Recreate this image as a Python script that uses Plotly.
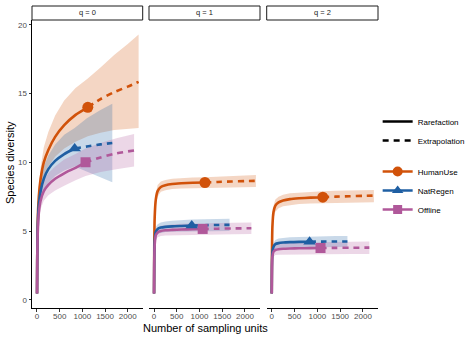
import plotly.graph_objects as go

# ---------------- data ----------------
GROUPS = ["HumanUse", "NatRegen", "Offline"]
Q_LABELS = ["q = 0", "q = 1", "q = 2"]
X_TICKS = [0, 500, 1000, 1500, 2000]
Y_TICKS = [0, 5, 10, 15, 20]

# sampling units grid per assemblage; observed sample size index marks end of rarefaction
HU_X = [1, 5, 15, 40, 80, 150, 250, 400, 600, 850, 1120, 1400, 1700, 2000, 2240]
HU_NOBS_IDX = 10
NR_X = [1, 5, 15, 40, 80, 150, 250, 400, 600, 830, 1100, 1400, 1660]
NR_NOBS_IDX = 9
OF_X = [1, 5, 15, 40, 80, 150, 250, 400, 600, 850, 1070, 1400, 1750, 2140]
OF_NOBS_IDX = 10

# HumanUse
HU_Q0_Y = [0.45, 3.0, 5.6, 7.5, 8.8, 10.0, 10.9, 11.85, 12.7, 13.45, 14.0, 14.6, 15.1, 15.5, 15.85]
HU_Q0_LO = [0.4, 2.8, 5.2, 6.9, 8.0, 9.0, 9.7, 10.4, 11.0, 11.5, 11.9, 12.15, 12.35, 12.45, 12.5]
HU_Q0_HI = [0.5, 3.2, 6.0, 8.1, 9.6, 11.1, 12.2, 13.4, 14.5, 15.4, 16.1, 16.9, 17.8, 18.6, 19.3]
HU_Q1_Y = [0.45, 3.5, 6.0, 7.3, 7.9, 8.2, 8.33, 8.42, 8.47, 8.51, 8.53, 8.57, 8.6, 8.63, 8.65]
HU_Q1_LO = [0.4, 3.2, 5.6, 6.9, 7.5, 7.85, 7.97, 8.05, 8.1, 8.13, 8.15, 8.17, 8.18, 8.19, 8.2]
HU_Q1_HI = [0.5, 3.8, 6.4, 7.75, 8.35, 8.6, 8.72, 8.8, 8.85, 8.89, 8.92, 8.96, 9.0, 9.04, 9.08]
HU_Q2_Y = [0.45, 3.2, 5.3, 6.4, 6.85, 7.08, 7.22, 7.32, 7.38, 7.43, 7.46, 7.5, 7.53, 7.56, 7.58]
HU_Q2_LO = [0.4, 2.9, 4.9, 5.95, 6.4, 6.65, 6.8, 6.9, 6.96, 7.01, 7.04, 7.06, 7.08, 7.09, 7.1]
HU_Q2_HI = [0.5, 3.5, 5.7, 6.85, 7.3, 7.5, 7.64, 7.74, 7.8, 7.86, 7.9, 7.93, 7.95, 7.97, 7.98]

# NatRegen
NR_Q0_Y = [0.45, 2.9, 5.2, 6.9, 7.9, 8.8, 9.5, 10.1, 10.6, 11.0, 11.15, 11.3, 11.4]
NR_Q0_LO = [0.4, 2.7, 4.9, 6.4, 7.2, 8.0, 8.5, 9.0, 9.4, 9.7, 9.3, 8.9, 8.55]
NR_Q0_HI = [0.5, 3.1, 5.5, 7.4, 8.6, 9.7, 10.5, 11.3, 12.0, 12.5, 13.2, 13.8, 14.25]
NR_Q1_Y = [0.45, 2.8, 4.3, 4.95, 5.15, 5.25, 5.3, 5.34, 5.37, 5.4, 5.42, 5.44, 5.45]
NR_Q1_LO = [0.4, 2.6, 4.0, 4.6, 4.8, 4.88, 4.92, 4.95, 4.97, 4.98, 4.99, 5.0, 5.0]
NR_Q1_HI = [0.5, 3.0, 4.6, 5.3, 5.5, 5.62, 5.7, 5.75, 5.8, 5.83, 5.86, 5.88, 5.9]
NR_Q2_Y = [0.45, 2.4, 3.45, 3.85, 4.05, 4.12, 4.16, 4.19, 4.21, 4.22, 4.23, 4.235, 4.24]
NR_Q2_LO = [0.4, 2.2, 3.2, 3.55, 3.7, 3.76, 3.79, 3.81, 3.82, 3.83, 3.84, 3.845, 3.85]
NR_Q2_HI = [0.5, 2.6, 3.7, 4.15, 4.35, 4.45, 4.5, 4.54, 4.57, 4.6, 4.62, 4.63, 4.64]

# Offline
OF_Q0_Y = [0.45, 2.6, 4.7, 6.3, 7.2, 7.9, 8.35, 8.8, 9.2, 9.6, 10.0, 10.35, 10.65, 10.86]
OF_Q0_LO = [0.4, 2.4, 4.3, 5.8, 6.6, 7.2, 7.6, 7.95, 8.3, 8.7, 9.0, 9.3, 9.5, 9.7]
OF_Q0_HI = [0.5, 2.8, 5.1, 6.9, 7.9, 8.7, 9.2, 9.7, 10.2, 10.6, 11.0, 11.4, 11.75, 12.05]
OF_Q1_Y = [0.45, 2.6, 4.0, 4.7, 4.9, 5.0, 5.05, 5.08, 5.11, 5.13, 5.15, 5.17, 5.19, 5.2]
OF_Q1_LO = [0.4, 2.4, 3.7, 4.35, 4.55, 4.63, 4.67, 4.69, 4.71, 4.73, 4.74, 4.75, 4.77, 4.78]
OF_Q1_HI = [0.5, 2.8, 4.3, 5.05, 5.25, 5.38, 5.44, 5.48, 5.52, 5.55, 5.57, 5.59, 5.61, 5.62]
OF_Q2_Y = [0.45, 2.2, 3.15, 3.5, 3.62, 3.68, 3.71, 3.73, 3.745, 3.755, 3.76, 3.775, 3.785, 3.79]
OF_Q2_LO = [0.4, 2.0, 2.85, 3.15, 3.25, 3.28, 3.29, 3.3, 3.31, 3.32, 3.32, 3.33, 3.33, 3.33]
OF_Q2_HI = [0.5, 2.4, 3.45, 3.85, 4.0, 4.08, 4.12, 4.15, 4.17, 4.19, 4.2, 4.21, 4.22, 4.23]

# ---------------- styling ----------------
LINE_COL = {"HumanUse": "#D1520A", "NatRegen": "#1F5FA3", "Offline": "#B0589A"}
FILL_COL = {"HumanUse": "rgba(209,82,10,0.24)", "NatRegen": "rgba(31,95,163,0.24)",
            "Offline": "rgba(176,88,154,0.24)"}
SYMBOL = {"HumanUse": "circle", "NatRegen": "triangle-up", "Offline": "square"}
MSIZE = {"HumanUse": 11, "NatRegen": 11, "Offline": 10}
FONT = "Liberation Sans, Arial, sans-serif"

SERIES = {
    "HumanUse": (HU_X, HU_NOBS_IDX, [(HU_Q0_Y, HU_Q0_LO, HU_Q0_HI), (HU_Q1_Y, HU_Q1_LO, HU_Q1_HI), (HU_Q2_Y, HU_Q2_LO, HU_Q2_HI)]),
    "NatRegen": (NR_X, NR_NOBS_IDX, [(NR_Q0_Y, NR_Q0_LO, NR_Q0_HI), (NR_Q1_Y, NR_Q1_LO, NR_Q1_HI), (NR_Q2_Y, NR_Q2_LO, NR_Q2_HI)]),
    "Offline": (OF_X, OF_NOBS_IDX, [(OF_Q0_Y, OF_Q0_LO, OF_Q0_HI), (OF_Q1_Y, OF_Q1_LO, OF_Q1_HI), (OF_Q2_Y, OF_Q2_LO, OF_Q2_HI)]),
}

fig = go.Figure()
axes = [("x", "y"), ("x2", "y2"), ("x3", "y3")]

for qi, (xa, ya) in enumerate(axes):
    # ribbons
    for g in GROUPS:
        xs, ni, curves = SERIES[g]
        y, lo, hi = curves[qi]
        fig.add_trace(go.Scatter(x=xs + xs[::-1], y=hi + lo[::-1], fill="toself",
                                 fillcolor=FILL_COL[g], line=dict(width=0), mode="lines",
                                 hoverinfo="skip", showlegend=False, xaxis=xa, yaxis=ya))
    # lines
    for g in GROUPS:
        xs, ni, curves = SERIES[g]
        y, lo, hi = curves[qi]
        fig.add_trace(go.Scatter(x=xs[:ni + 1], y=y[:ni + 1], mode="lines",
                                 line=dict(color=LINE_COL[g], width=2.6, shape="spline", smoothing=0.6),
                                 showlegend=False, xaxis=xa, yaxis=ya))
        fig.add_trace(go.Scatter(x=xs[ni:], y=y[ni:], mode="lines",
                                 line=dict(color=LINE_COL[g], width=2.6, dash="6px,5px", shape="spline", smoothing=0.6),
                                 showlegend=False, xaxis=xa, yaxis=ya))
    # observed points
    for g in GROUPS:
        xs, ni, curves = SERIES[g]
        y, lo, hi = curves[qi]
        fig.add_trace(go.Scatter(x=[xs[ni]], y=[y[ni]], mode="markers",
                                 marker=dict(color=LINE_COL[g], symbol=SYMBOL[g], size=MSIZE[g], line=dict(width=0)),
                                 showlegend=False, xaxis=xa, yaxis=ya))

# legend entries
fig.add_trace(go.Scatter(x=[None], y=[None], mode="lines", name="Rarefaction",
                         line=dict(color="black", width=2.6), legendgroup="method"))
fig.add_trace(go.Scatter(x=[None], y=[None], mode="lines", name="Extrapolation",
                         line=dict(color="black", width=2.6, dash="6px,5px"), legendgroup="method"))
for g in GROUPS:
    fig.add_trace(go.Scatter(x=[None], y=[None], mode="lines+markers", name=g,
                             line=dict(color=LINE_COL[g], width=2.6),
                             marker=dict(color=LINE_COL[g], symbol=SYMBOL[g], size=MSIZE[g] - 1),
                             legendgroup="assemblage"))

L, R, T, B = 32, 96, 20, 30
W, H = 474, 338
PW = W - L - R
PH = H - T - B
panel_px = [(31.7, 142.7), (149.0, 260.0), (266.7, 378.0)]
domains = [[(a - L) / PW, (b - L) / PW] for a, b in panel_px]
domains[0][0] = 0.0
domains[2][1] = 1.0

xcommon = dict(range=[-110, 2330], tickvals=X_TICKS, showline=True, linecolor="black", linewidth=1,
               ticks="outside", ticklen=2.5, tickcolor="#333333", showgrid=False, zeroline=False,
               ticklabelstandoff=-2,
               tickfont=dict(family=FONT, size=8, color="#4D4D4D"))
ycommon = dict(range=[-0.6, 20.35], tickvals=Y_TICKS, showgrid=False, zeroline=False)

layout = dict(
    width=W, height=H, margin=dict(l=L, r=R, t=T, b=B, autoexpand=False),
    plot_bgcolor="white", paper_bgcolor="white",
    font=dict(family=FONT, color="black"),
    legend=dict(x=0.999, y=0.698, xanchor="left", yanchor="top", traceorder="grouped",
                tracegroupgap=12, font=dict(family=FONT, size=8, color="black"),
                bgcolor="rgba(0,0,0,0)", itemwidth=30),
    showlegend=True,
)
for i, (xa, ya) in enumerate(axes):
    suffix = "" if i == 0 else str(i + 1)
    layout["xaxis" + suffix] = dict(xcommon, domain=domains[i], anchor=ya)
    if i == 0:
        layout["yaxis"] = dict(ycommon, domain=[0, 1], anchor="x", showline=True, linecolor="black",
                               linewidth=1, ticks="outside", ticklen=2.5, tickcolor="#333333",
                               tickfont=dict(family=FONT, size=8, color="#4D4D4D"))
    else:
        layout["yaxis" + suffix] = dict(ycommon, domain=[0, 1], anchor=xa, showline=False,
                                        showticklabels=False, ticks="")
fig.update_layout(**layout)

# facet strips
shapes = []
annotations = []
for i, (d0, d1) in enumerate(domains):
    shapes.append(dict(type="rect", xref="paper", yref="paper", x0=d0, x1=d1,
                       y0=1.0, y1=1.0 + 14 / PH, line=dict(color="#1A1A1A", width=1), fillcolor="white"))
    annotations.append(dict(text=Q_LABELS[i], xref="paper", yref="paper", x=(d0 + d1) / 2,
                            y=1.0 + 7 / PH, xanchor="center", yanchor="middle", showarrow=False,
                            font=dict(family=FONT, size=7.5, color="#1A1A1A")))
annotations.append(dict(text="Number of sampling units", xref="paper", yref="paper", x=0.5,
                        y=-(328 - (T + PH)) / PH, xanchor="center", yanchor="middle", showarrow=False,
                        font=dict(family=FONT, size=11, color="black")))
annotations.append(dict(text="Species diversity", xref="paper", yref="paper", x=(10 - L) / PW,
                        y=1 - (163 - T) / PH, xanchor="center", yanchor="middle", showarrow=False,
                        textangle=-90, font=dict(family=FONT, size=11, color="black")))
fig.update_layout(shapes=shapes, annotations=annotations)

fig.write_html("out.html")
